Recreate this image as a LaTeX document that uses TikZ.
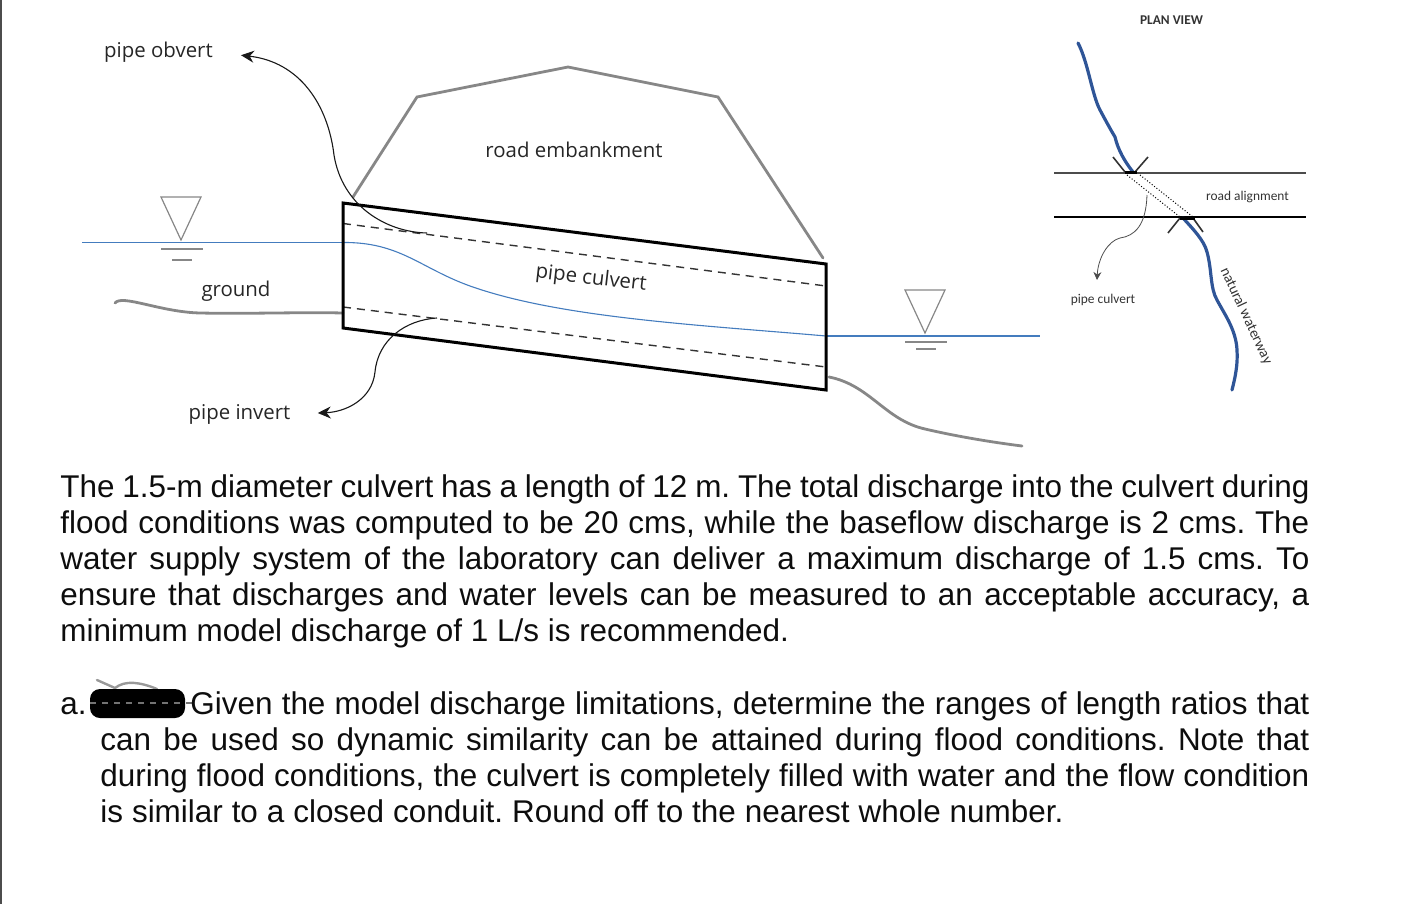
\documentclass[tikz,border=0pt]{standalone}
\usepackage{fontspec}
\setmainfont{Liberation Sans}
\newfontfamily\labelfont{Open Sans}
\newfontfamily\planfont{Carlito}
\usepackage{xcolor}
\definecolor{water-blue}{RGB}{68,124,190}
\definecolor{river-blue}{RGB}{47,85,151}
\definecolor{soil-gray}{RGB}{135,135,135}
\usetikzlibrary{arrows.meta}
\usetikzlibrary{calc}
\tikzstyle{pipewall}=[line width=1.5pt,black,line join=miter]
\tikzstyle{pipeline}=[line width=.7pt,dash pattern=on 4pt off 3pt,black!80]
\tikzstyle{soil}=[line width=1.4pt,soil-gray,line cap=round]
\tikzstyle{waterline}=[line width=.7pt,water-blue]
\tikzstyle{levelmark}=[line width=.6pt,soil-gray]
\tikzstyle{leader}=[line width=.55pt,black!90,-{Stealth[length=6.5pt,width=6pt]}]
\tikzstyle{river}=[line width=1.6pt,river-blue,line cap=round]
\tikzstyle{wing}=[line width=.8pt,black!80]
\tikzstyle{sidelabel}=[inner sep=0pt,text=black!85,font=\labelfont\fontsize{10.2}{12}\selectfont]
\tikzstyle{planlabel}=[inner sep=0pt,text=black!80,font=\planfont\fontsize{6.7}{8}\selectfont]
\tikzstyle{bodytext}=[inner sep=0pt,anchor=base west,text=black!95,font=\frenchspacing\fontsize{15.72}{18}\selectfont]
\newcommand{\bodyline}[4]{
	\node[bodytext] (#1) at (#2) {\hbox to #3{#4}};
}
\newcommand{\levelsign}[2]{
	\draw[levelmark] ($#1+(-20,-43)$) -- ($#1+(20,-43)$) -- #1 -- cycle;
	\draw[levelmark] ($#1+(-20,9)$) -- ($#1+(22,9)$);
	\draw[levelmark] ($#1+(-9,#2)$) -- ($#1+(11,#2)$);
}
\begin{document}
\begin{tikzpicture}[x=.5pt,y=-.5pt]
	\useasboundingbox (0,0) rectangle (1428,904);
	\draw[line width=1pt,black!70] (1,0) -- (1,904);
	% elevation
	\draw[soil] (353,197) -- (417,97) -- (568,67) -- (718,97) -- (823,258);
	\draw[soil] (115,303) .. controls (122,294) and (160,312) .. (200,313) .. controls (250,314) and (300,312) .. (343,313);
	\draw[soil] (829,377) .. controls (870,385) and (885,420) .. (925,429) .. controls (955,436) and (990,442) .. (1022,446);
	\draw[waterline] (82,242.5) -- (343,242.5);
	\draw[waterline] (826,336) -- (1040,336);
	\draw[waterline,line width=.55pt] (343,242.5) .. controls (400,242) and (420,268) .. (470,286) .. controls (560,318) and (700,325) .. (826,336);
	\draw[pipeline] (343,223.5) -- (826,286);
	\draw[pipeline] (343,307) -- (826,367);
	\draw[pipewall] (343,203) -- (826,264) -- (826,390) -- (343,328) -- cycle;
	\levelsign{(181,240)}{20}
	\levelsign{(925,333)}{16}
	\node[sidelabel] (obvert) at (158.5,52) {pipe obvert};
	\node[sidelabel] (embankment) at (574,150) {road embankment};
	\node[sidelabel] (ground) at (236,291) {ground};
	\node[sidelabel] (invert) at (239.5,414) {pipe invert};
	\node[sidelabel,rotate=-6.5] (culvert) at (591,279) {pipe culvert};
	\coordinate (obvertstart) at (427,233);
	\coordinate (invertstart) at (437,318);
	\draw[leader,shorten >=14pt] (obvertstart) .. controls (385,232) and (342,205) .. (334,155) .. controls (328,105) and (300,62) .. (obvert.east);
	\draw[leader,shorten >=13.5pt] (invertstart) .. controls (405,320) and (378,340) .. (375,372) .. controls (372,400) and (345,412) .. (invert.east);
	% plan view
	\draw[line width=1.4pt,black!70] (1054,173) -- (1306,173);
	\draw[line width=.7pt,black] (1054,217) -- (1306,217);
	\draw[river] (1078,43) .. controls (1088,62) and (1092,95) .. (1100,110) .. controls (1108,125) and (1112,132) .. (1115,137) .. controls (1118,150) and (1125,162) .. (1133,172);
	\draw[river] (1183,218) .. controls (1192,228) and (1204,240) .. (1207,252) .. controls (1212,270) and (1210,288) .. (1217,300) .. controls (1225,315) and (1236,330) .. (1237,350) .. controls (1238,365) and (1235,378) .. (1232,390);
	\draw[wing] (1113,157) -- (1125,172);
	\draw[wing] (1148,157) -- (1135,172);
	\draw[wing] (1168,233) -- (1180,218);
	\draw[wing] (1203,232) -- (1193,218);
	\draw[line width=1.5pt,black] (1125,172.5) -- (1137,172.5);
	\draw[line width=1.5pt,black] (1180,218) -- (1195,218);
	\draw[line width=.5pt,densely dotted] (1127,175) -- (1180,217);
	\draw[line width=.5pt,densely dotted] (1140,175) -- (1193,217);
	\node[planlabel,font=\planfont\bfseries\fontsize{6.7}{8}\selectfont] (planview) at (1171.5,20.5) {PLAN VIEW};
	\node[planlabel] (alignment) at (1247.5,196.5) {road alignment};
	\node[planlabel] (planculvert) at (1103,299.5) {pipe culvert};
	\node[planlabel,rotate=-65,font=\planfont\fontsize{7.4}{8}\selectfont] (waterway) at (1246,316) {natural waterway};
	\coordinate (planstart) at (1147,195);
	\coordinate (plantip) at (1097,280);
	\draw[leader,line width=.4pt,-{Stealth[length=4pt,width=4pt]},black!70] (planstart) .. controls (1146,225) and (1135,236) .. (1120,238) .. controls (1108,241) and (1098,258) .. (plantip);
	% text
	\bodyline{lineA}{60,497}{624.5pt}{The 1.5-m diameter culvert has a length of 12 m. The total discharge into the culvert during}
	\bodyline{lineB}{60,533}{624.5pt}{flood conditions was computed to be 20 cms, while the baseflow discharge is 2 cms. The}
	\bodyline{lineC}{60,569}{624.5pt}{water supply system of the laboratory can deliver a maximum discharge of 1.5 cms. To}
	\bodyline{lineD}{60,605}{624.5pt}{ensure that discharges and water levels can be measured to an acceptable accuracy, a}
	\node[bodytext] (lineE) at (60,641) {minimum model discharge of 1 L/s is recommended.};
	\node[bodytext] (itemA) at (60,714) {a.};
	\draw[line width=1.2pt,black!40,line cap=round] (97,680) -- (115,688) .. controls (125,680) and (140,682) .. (157,689);
	\fill[black,rounded corners=5pt] (90,689) rectangle (185,718);
	\draw[line width=.6pt,black!55,dashed] (90,703) -- (192,703);
	\bodyline{lineF}{190,714}{559.5pt}{Given the model discharge limitations, determine the ranges of length ratios that}
	\bodyline{lineG}{100,750}{604.5pt}{can be used so dynamic similarity can be attained during flood conditions. Note that}
	\bodyline{lineH}{100,786}{604.5pt}{during flood conditions, the culvert is completely filled with water and the flow condition}
	\bodyline{lineI}{100,822}{481.5pt}{is similar to a closed conduit. Round off to the nearest whole number.}
\end{tikzpicture}
\end{document}
